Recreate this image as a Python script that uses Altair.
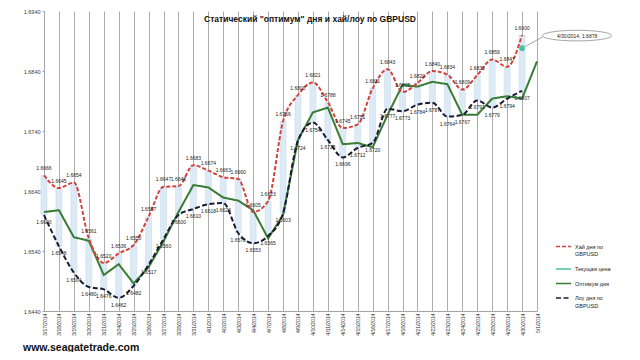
import altair as alt
import pandas as pd

dates = ["3/17/2014", "3/18/2014", "3/19/2014", "3/20/2014", "3/21/2014", "3/24/2014",
         "3/25/2014", "3/26/2014", "3/27/2014", "3/28/2014", "3/31/2014", "4/1/2014",
         "4/2/2014", "4/3/2014", "4/4/2014", "4/7/2014", "4/8/2014", "4/9/2014",
         "4/10/2014", "4/11/2014", "4/14/2014", "4/15/2014", "4/16/2014", "4/17/2014",
         "4/18/2014", "4/21/2014", "4/22/2014", "4/23/2014", "4/24/2014", "4/25/2014",
         "4/28/2014", "4/29/2014", "4/30/2014", "5/1/2014"]
day_high = [1.6666, 1.6645, 1.6654, 1.6561, 1.6520, 1.6536, 1.6550, 1.6597, 1.6647, 1.6648,
            1.6683, 1.6674, 1.6663, 1.6660, 1.6605, 1.6623, 1.6756, 1.6800, 1.6821, 1.6788,
            1.6745, 1.6751, 1.6811, 1.6843, 1.6805, 1.6820, 1.6840, 1.6834, 1.6809, 1.6833,
            1.6859, 1.6847, 1.6900, None]
day_low = [1.6600, 1.6548, 1.6504, 1.6480, 1.6476, 1.6462, 1.6482, 1.6517, 1.6560, 1.6600,
           1.6610, 1.6618, 1.6620, 1.6570, 1.6553, 1.6565, 1.6603, 1.6724, 1.6754, 1.6725,
           1.6696, 1.6712, 1.6720, 1.6777, 1.6773, 1.6784, 1.6787, 1.6764, 1.6767, 1.6791,
           1.6779, 1.6794, 1.6807, None]
day_optimum = [1.6605, 1.6608, 1.6563, 1.6557, 1.6500, 1.6518, 1.6486, 1.6513, 1.6556, 1.6605,
               1.6650, 1.6646, 1.6629, 1.6624, 1.6608, 1.6561, 1.6600, 1.6725, 1.6771, 1.6779,
               1.6718, 1.6720, 1.6713, 1.6767, 1.6817, 1.6814, 1.6822, 1.6818, 1.6767, 1.6767,
               1.6794, 1.6798, 1.6794, 1.6856]
current_date = "4/30/2014"
current_price = 1.6878
y_tick_values = [1.6440, 1.6490, 1.6540, 1.6590, 1.6640, 1.6690, 1.6740, 1.6790,
                 1.6840, 1.6890, 1.6940]
series_names = ["Хай дня по GBPUSD", "Текущая цена", "Оптимум дня", "Лоу дня по GBPUSD"]
series_colors = ["#d3433d", "#4dbf9c", "#3a7b34", "#1b1b33"]
series_dashes = [[4, 2], [1, 0], [1, 0], [5, 2.5]]
title_text = 'Статический "оптимум" дня и хай/лоу по GBPUSD'
watermark = "www.seagatetrade.com"
callout_text = "4/30/2014, 1.6878"

FONT = "Liberation Sans"

wide = pd.DataFrame({"date": dates, "high": day_high, "low": day_low, "optimum": day_optimum})

rows = []
for d, h, l, o in zip(dates, day_high, day_low, day_optimum):
    if h is not None:
        rows.append({"date": d, "series": series_names[0], "value": h})
    if l is not None:
        rows.append({"date": d, "series": series_names[3], "value": l})
    rows.append({"date": d, "series": series_names[2], "value": o})
rows.append({"date": current_date, "series": series_names[1], "value": current_price})
long_df = pd.DataFrame(rows)
current_df = pd.DataFrame({"date": [current_date], "value": [current_price], "label": [callout_text]})
wm_df = pd.DataFrame({"t": [watermark]})

x_enc = alt.X("date:N", sort=dates,
              scale=alt.Scale(domain=dates, type="point", padding=0),
              axis=alt.Axis(title=None, labelAngle=-90, labelFontSize=5, labelFont=FONT,
                            labelColor="#333333", grid=True, gridColor="#a3a3a3", gridWidth=0.9,
                            ticks=False, labelPadding=2, domainColor="#a3a3a3",
                            labelOverlap=False))
y_scale = alt.Scale(domain=[1.6440, 1.6940], nice=False, zero=False)
y_axis = alt.Axis(title=None, values=y_tick_values, format=".4f", labelFontSize=5.5,
                  labelFont=FONT, labelColor="#404040", grid=False, tickSize=2,
                  tickColor="#a3a3a3", domainColor="#a3a3a3", labelPadding=2)

legend = alt.Legend(title=None, orient="none", legendX=511, legendY=227, symbolType="stroke",
                    symbolSize=225, symbolStrokeWidth=1.5, labelFontSize=5.5, labelFont=FONT,
                    labelColor="#222222", rowPadding=2.5, labelOffset=3, padding=0,
                    labelLimit=120,
                    labelExpr="indexof(datum.label, 'GBPUSD') > 0 ? "
                              "[replace(datum.label, ' GBPUSD', ''), 'GBPUSD'] : datum.label")
color_enc = alt.Color("series:N", scale=alt.Scale(domain=series_names, range=series_colors),
                      legend=legend)
dash_enc = alt.StrokeDash("series:N", scale=alt.Scale(domain=series_names, range=series_dashes),
                          legend=legend)

bars = alt.Chart(wide).transform_filter("isValid(datum.high)").mark_bar(
    size=6, color="#dceaf5", stroke="#c2d9ea", strokeWidth=0.5
).encode(x=x_enc, y=alt.Y("low:Q", scale=y_scale, axis=y_axis), y2="high:Q")

green = alt.Chart(long_df).transform_filter(
    alt.datum.series == series_names[2]
).mark_line(strokeWidth=2, interpolate="linear").encode(
    x=x_enc, y=alt.Y("value:Q", scale=y_scale, axis=y_axis), color=color_enc, strokeDash=dash_enc
)

dashed = alt.Chart(long_df).transform_filter(
    alt.datum.series != series_names[2]
).mark_line(strokeWidth=2, interpolate="monotone").encode(
    x=x_enc, y=alt.Y("value:Q", scale=y_scale, axis=y_axis), color=color_enc, strokeDash=dash_enc
)

high_labels = alt.Chart(wide).transform_filter("isValid(datum.high)").mark_text(
    fontSize=5, font=FONT, color="#222222", baseline="bottom", dy=-4.5
).encode(x=x_enc, y=alt.Y("high:Q", scale=y_scale), text=alt.Text("high:Q", format=".4f"))

low_labels = alt.Chart(wide).transform_filter("isValid(datum.low)").mark_text(
    fontSize=5, font=FONT, color="#222222", baseline="top", dy=5
).encode(x=x_enc, y=alt.Y("low:Q", scale=y_scale), text=alt.Text("low:Q", format=".4f"))

cur_point = alt.Chart(current_df).mark_point(
    shape="circle", filled=True, size=32, color=series_colors[1], opacity=1
).encode(x=x_enc, y=alt.Y("value:Q", scale=y_scale))

callout_shape = ("M0.3,-0.17L2.1,-1.15M2.05,-1.26A3.45,0.53 0 1,0 8.95,-1.26"
                 "A3.45,0.53 0 1,0 2.05,-1.26Z")
callout = alt.Chart(current_df).mark_point(
    shape=callout_shape, size=400, filled=True, fill="white", stroke="#8c8c8c",
    strokeWidth=0.8, opacity=1
).encode(x=x_enc, y=alt.Y("value:Q", scale=y_scale))

callout_label = alt.Chart(current_df).mark_text(
    fontSize=5, font=FONT, color="#222222", dx=55, dy=-12.6
).encode(x=x_enc, y=alt.Y("value:Q", scale=y_scale), text="label:N")

wm = alt.Chart(wm_df).mark_text(
    fontSize=10.5, font=FONT, fontWeight="bold", color="#111111", align="left",
    baseline="alphabetic"
).encode(text="t:N", x=alt.value(-21), y=alt.value(340))

chart = alt.layer(
    bars, green, dashed, high_labels, low_labels, cur_point, callout, callout_label, wm
).properties(
    width=493, height=300,
    autosize=alt.AutoSizeParams(type="none"),
    padding={"left": 36, "top": 3, "right": 95, "bottom": 41},
    background="white",
    title=alt.TitleParams(text=title_text, anchor="start", frame="group", dx=160, dy=21,
                          offset=0, fontSize=8.5, font=FONT, fontWeight="bold",
                          color="#111111", baseline="alphabetic"),
).resolve_scale(color="shared").configure_view(stroke=None)

chart.save("out.html", embed_options={"renderer": "svg", "actions": False})
